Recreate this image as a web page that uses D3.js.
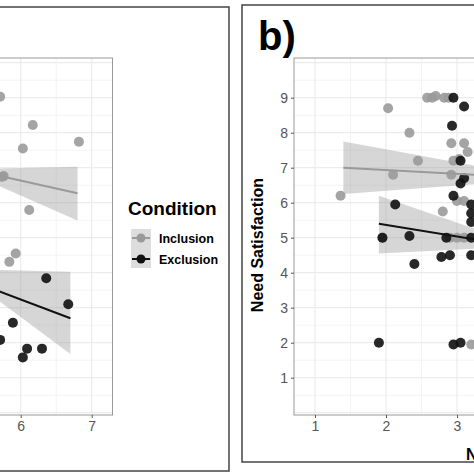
<!DOCTYPE html><html><head><meta charset="utf-8">
<script src="https://cdn.jsdelivr.net/npm/d3@7"></script>
<style>body{margin:0;background:#fff}text{font-family:"Liberation Sans",Arial,sans-serif}</style></head><body>
<svg id="c" width="474" height="474"></svg>
<script>
const leftIncX=[5.71,6.17,6.03,6.82,5.74,5.76,6.12,5.93,5.84];
const leftIncY=[9.03,8.22,7.55,7.74,6.74,6.76,5.79,4.55,4.31];
const leftExcX=[6.36,6.67,5.89,5.71,6.09,6.03,6.3];
const leftExcY=[3.84,3.1,2.57,2.08,1.83,1.58,1.83];
const leftIncFit={x:[5.0,5.71,6.8],y:[7.08,6.76,6.27],lo:[6.8,6.46,5.49],hi:[7.35,6.98,7.03]};
const leftExcFit={x:[5.0,5.71,6.7],y:[4.0,3.46,2.7],lo:[3.6,3.17,1.68],hi:[4.4,4.08,4.03]};
const rightIncX=[1.36,2.03,1.95,2.1,2.33,2.45,2.58,2.65,2.7,2.82,2.88,2.92,2.92,2.95,3.03,3.1,3.0,3.1,2.8,2.9,3.0,3.1,3.2,3.15];
const rightIncY=[6.2,8.7,5,6.8,8,7.2,9,9,9.05,9,9,7.7,6.8,7.2,7.25,7.7,6.05,6.05,5.75,5,5,5,1.95,7.45];
const rightExcX=[1.9,1.95,2.13,2.33,2.4,2.78,2.9,2.95,3.1,2.93,3.05,3.1,3.05,2.95,3.2,3.2,3.2,3.2,2.95,3.05,2.85,3.2];
const rightExcY=[2,5,5.95,5.05,4.25,4.45,4.5,9,8.75,8.2,7.2,6.7,6.55,6.2,5.95,5.7,5.45,4.5,1.95,2,5,5];
const rightIncFit={x:[1.4,3.4],y:[7.0,6.78],lo:[6.25,6.55],hi:[7.75,7.0]};
const rightExcFit={x:[1.9,3.4],y:[5.4,4.9],lo:[4.55,4.7],hi:[6.2,5.15]};
const yTicks=[1,2,3,4,5,6,7,8,9];
const legendLabels=["Inclusion","Exclusion"];
const incCol="#9a9a9a", excCol="#111";
const svg=d3.select("#c");
const y=d3.scaleLinear().domain([9,1]).range([97.7,377.7]);
function panel(id,px0,px1,x,xt,incX,incY,excX,excY,incF,excF,showY){
  const g=svg.append("g");
  svg.append("clipPath").attr("id",id).append("rect").attr("x",px0).attr("y",58).attr("width",px1-px0).attr("height",357);
  const p=g.append("g").attr("clip-path",`url(#${id})`);
  p.append("rect").attr("x",px0).attr("y",58).attr("width",px1-px0).attr("height",357).attr("fill","#fff");
  const xs=d3.range(-2,12,0.5), ys=d3.range(0,10.5,0.5);
  xs.forEach(v=>p.append("line").attr("x1",x(v)).attr("x2",x(v)).attr("y1",58).attr("y2",415).attr("stroke","#ececec").attr("stroke-width",Number.isInteger(v)?1.2:0.6));
  ys.forEach(v=>p.append("line").attr("y1",y(v)).attr("y2",y(v)).attr("x1",px0).attr("x2",px1).attr("stroke","#ececec").attr("stroke-width",Number.isInteger(v)?1.2:0.6));
  [[incF,incCol],[excF,excCol]].forEach(([f,c])=>{
    const pts=f.x.map((v,i)=>({x:v,lo:f.lo[i],hi:f.hi[i],y:f.y[i]}));
    p.append("path").attr("d",d3.area().x(d=>x(d.x)).y0(d=>y(d.lo)).y1(d=>y(d.hi))(pts)).attr("fill","#999").attr("opacity",0.4);
  });
  [[incX,incY,incCol],[excX,excY,excCol]].forEach(([X,Y,c])=>{
    p.selectAll(null).data(X).enter().append("circle").attr("cx",d=>x(d)).attr("cy",(d,i)=>y(Y[i])).attr("r",5).attr("fill",c).attr("opacity",0.9);
  });
  [[incF,incCol],[excF,excCol]].forEach(([f,c])=>{
    p.append("path").attr("d",d3.line().x(d=>x(d[0])).y(d=>y(d[1]))(f.x.map((v,i)=>[v,f.y[i]]))).attr("stroke",c).attr("stroke-width",2).attr("fill","none");
  });
  g.append("rect").attr("x",px0).attr("y",58).attr("width",px1-px0).attr("height",357).attr("fill","none").attr("stroke","#999").attr("stroke-width",1);
  const ax=g.append("g").attr("transform","translate(0,415)").call(d3.axisBottom(x).tickValues(xt).tickSize(3).tickFormat(d3.format("d")));
  ax.select(".domain").remove();
  ax.selectAll("text").attr("font-size",14).attr("fill","#555");ax.selectAll("line").attr("stroke","#555");
  if(showY){
    const ay=g.append("g").attr("transform",`translate(${px0},0)`).call(d3.axisLeft(y).tickValues(yTicks).tickSize(3).tickFormat(d3.format("d")));
    ay.select(".domain").remove();
    ay.selectAll("text").attr("font-size",14).attr("fill","#555");ay.selectAll("line").attr("stroke","#555");
  }
}
svg.append("rect").attr("x",-10).attr("y",7).attr("width",239).attr("height",464).attr("fill","none").attr("stroke","#444").attr("stroke-width",1.5);
panel("cl",-300,112.5,d3.scaleLinear().domain([6,7]).range([20.7,91.7]),[6,7],leftIncX,leftIncY,leftExcX,leftExcY,leftIncFit,leftExcFit,false);
svg.append("text").attr("x",128).attr("y",215).attr("font-size",19).attr("font-weight","bold").text("Condition");
svg.append("rect").attr("x",131).attr("y",229).attr("width",20).attr("height",39).attr("fill","#ddd");
legendLabels.forEach((t,i)=>{
  const c=i?excCol:incCol, yy=238+i*21;
  svg.append("line").attr("x1",132).attr("x2",150).attr("y1",yy).attr("y2",yy).attr("stroke",c).attr("stroke-width",2);
  svg.append("circle").attr("cx",141).attr("cy",yy).attr("r",4.5).attr("fill",c);
  svg.append("text").attr("x",159).attr("y",yy+5).attr("font-size",12.5).attr("font-weight","bold").text(t);
});
svg.append("rect").attr("x",242).attr("y",5).attr("width",250).attr("height",457).attr("fill","none").attr("stroke","#444").attr("stroke-width",1.5);
svg.append("text").attr("x",258).attr("y",50).attr("font-size",40).attr("font-weight","bold").text("b)");
panel("cr",294,480,d3.scaleLinear().domain([1,2]).range([315,386]),[1,2,3],rightIncX,rightIncY,rightExcX,rightExcY,rightIncFit,rightExcFit,true);
svg.append("text").attr("transform","translate(263,245) rotate(-90)").attr("text-anchor","middle").attr("font-size",16).attr("font-weight","bold").text("Need Satisfaction");
svg.append("text").attr("x",466).attr("y",460).attr("font-size",16).attr("font-weight","bold").text("N");
</script></body></html>
